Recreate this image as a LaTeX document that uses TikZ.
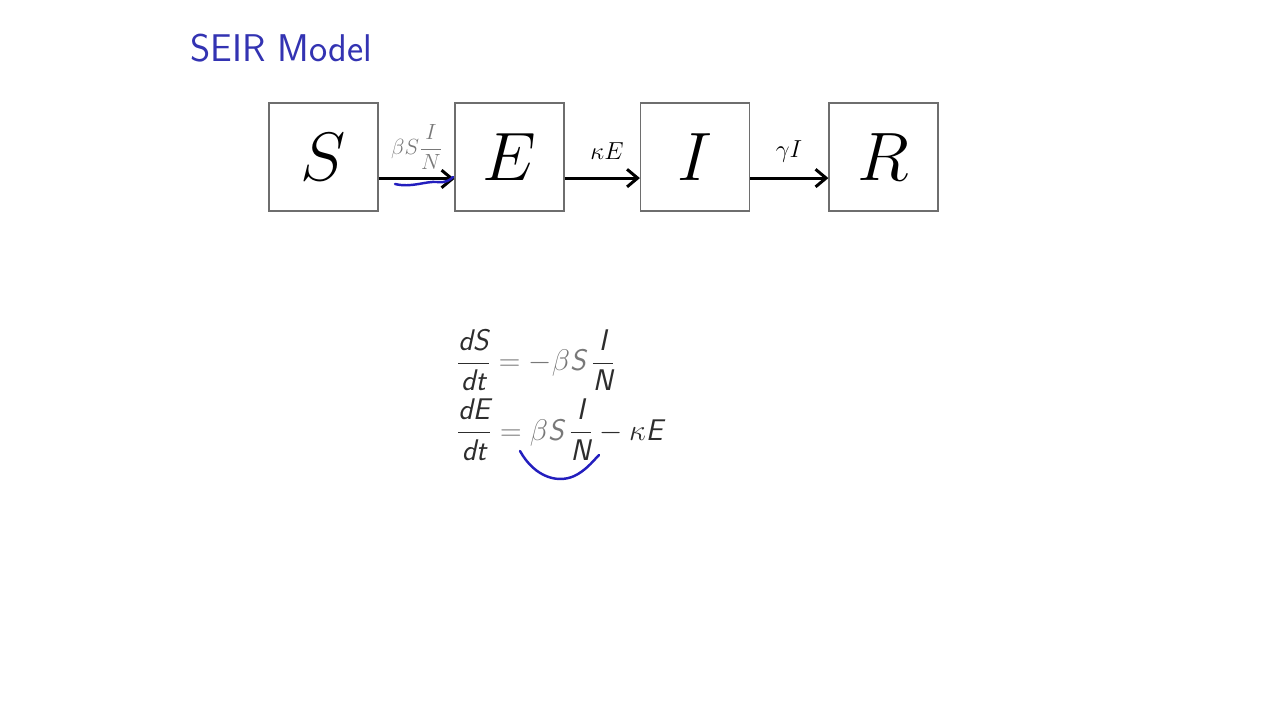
\documentclass[tikz,border=0pt]{standalone}
\usepackage{fix-cm}
\usetikzlibrary{arrows.meta}
\definecolor{titleblue}{RGB}{51,51,178}
\definecolor{penblue}{RGB}{35,30,190}
\definecolor{boxgray}{RGB}{110,110,110}
\definecolor{eqdark}{RGB}{45,45,45}
\definecolor{eqlight}{RGB}{120,120,120}
\newcommand{\sv}[1]{\textsf{\slshape #1}}
\tikzset{
  compart/.style={draw=boxgray, line width=0.65pt, fill=white, minimum width=109*0.02cm, minimum height=108*0.02cm, inner sep=0pt, font=\fontsize{39}{40}\selectfont},
  flow/.style={line width=1.7pt, -{Straight Barb[length=6pt,width=10pt,line width=1.7pt]}},
  rate/.style={font=\fontsize{14}{16}\selectfont, inner sep=0pt},
  pen/.style={penblue, line width=1.4pt, line cap=round, line join=round},
  eqn/.style={anchor=west, inner sep=0pt, text=eqdark, font=\fontsize{17}{20}\selectfont}
}
\begin{document}
\begin{tikzpicture}[x=0.02cm,y=-0.02cm]
\useasboundingbox (0,0) rectangle (1280,720);
\node[anchor=base west, text=titleblue, font=\sffamily\fontsize{22}{24}\selectfont, inner sep=0pt] (title) at (190,61) {SEIR Model};

\node[compart] (S) at (323.5,157) {$S$};
\node[compart] (E) at (509.5,157) {$E$};
\node[compart] (I) at (695,157) {$I$};
\node[compart] (R) at (883.5,157) {$R$};

\draw[flow] ([yshift=-12.5pt]S.east) -- ([yshift=-12.5pt]E.west);
\draw[flow] ([yshift=-12pt]E.east) -- ([yshift=-12pt]I.west);
\draw[flow] ([yshift=-12pt]I.east) -- ([yshift=-12pt]R.west);

\node[rate, text=eqlight, font=\fontsize{12.5}{14}\selectfont] (lse) at (417,147) {$\displaystyle\beta S\frac{I}{N}$};
\node[rate] (lei) at (607,151) {$\kappa E$};
\node[rate] (lir) at (789,151) {$\gamma I$};

\node[eqn] (eq1) at (456,360) {$\displaystyle\frac{\sv{dS}}{\sv{dt}}\textcolor{eqlight}{{}=-\beta \sv{S}}\,\frac{\sv{I}}{\sv{N}}$};
\node[eqn] (eq2) at (456,430) {$\displaystyle\frac{\sv{dE}}{\sv{dt}}\textcolor{eqlight}{{}=\beta \sv{S}}\,\frac{\sv{I}}{\sv{N}}-\kappa \sv{E}$};

\coordinate (u1) at (395,184);
\coordinate (u2) at (453,177);
\draw[pen] (u1) .. controls (412,188) and (425,181) .. (437,182) .. controls (446,183) and (450,180) .. (u2);
\coordinate (c1) at (520,451);
\coordinate (c2) at (599,455);
\draw[pen] (c1) .. controls (535,478) and (560,485) .. (578,474) .. controls (588,468) and (594,460) .. (c2);
\end{tikzpicture}
\end{document}
